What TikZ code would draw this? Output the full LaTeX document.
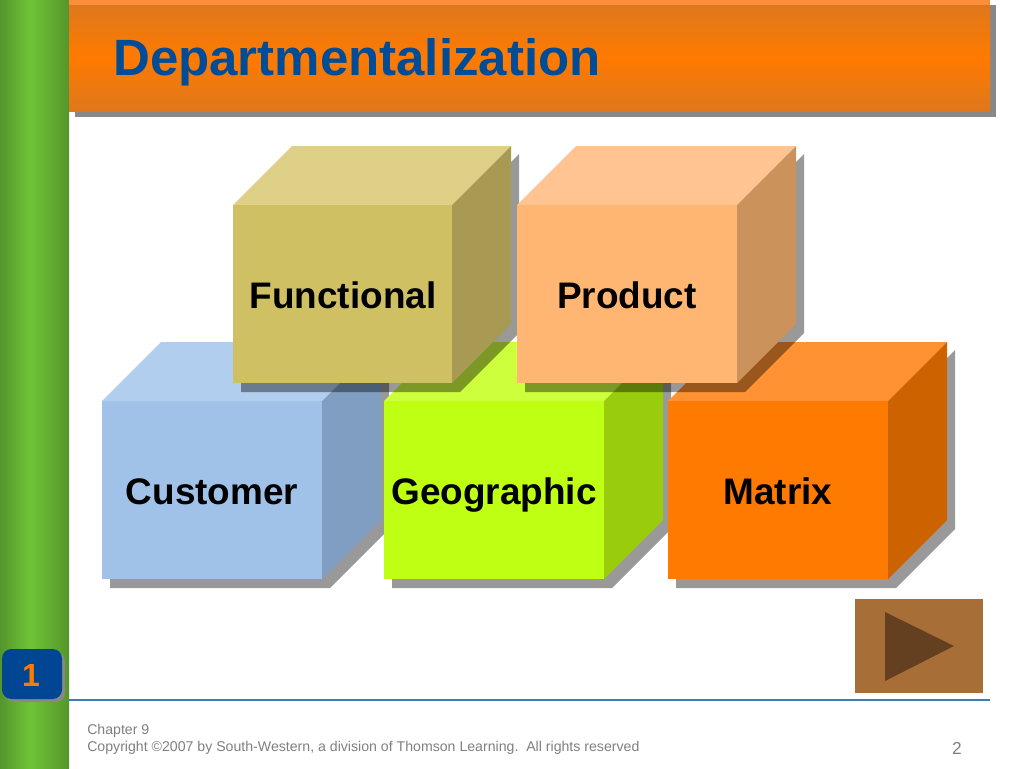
\documentclass[tikz,border=0pt]{standalone}
\usepackage{fontspec}
\setmainfont{Liberation Sans}
\definecolor{barDark}{RGB}{84,150,44}
\definecolor{barLight}{RGB}{112,196,54}
\definecolor{bandEdge}{RGB}{222,120,28}
\definecolor{bandMid}{RGB}{255,122,0}
\definecolor{bandTop}{RGB}{250,142,58}
\definecolor{shadowGray}{RGB}{136,136,136}
\definecolor{titleBlue}{RGB}{0,76,150}
\definecolor{badgeBlue}{RGB}{0,70,146}
\definecolor{ruleBlue}{RGB}{60,125,180}
\definecolor{footGray}{RGB}{128,128,128}
\definecolor{btnBrown}{RGB}{168,110,56}
\definecolor{btnDark}{RGB}{100,64,32}
\definecolor{numOrange}{RGB}{255,122,0}
\definecolor{cuF}{RGB}{160,194,232}\definecolor{cuT}{RGB}{178,206,238}\definecolor{cuS}{RGB}{128,158,194}
\definecolor{geF}{RGB}{190,255,20}\definecolor{geT}{RGB}{205,255,60}\definecolor{geS}{RGB}{152,204,12}
\definecolor{maF}{RGB}{255,122,0}\definecolor{maT}{RGB}{255,146,50}\definecolor{maS}{RGB}{204,98,0}
\definecolor{fuF}{RGB}{208,192,100}\definecolor{fuT}{RGB}{222,208,134}\definecolor{fuS}{RGB}{168,154,82}
\definecolor{prF}{RGB}{255,182,115}\definecolor{prT}{RGB}{255,196,145}\definecolor{prS}{RGB}{204,146,92}
\tikzset{
  x=0.75pt,y=-0.75pt,
  cubelabel/.style={font=\bfseries\fontsize{27.7}{30}\selectfont,text=black,inner sep=0pt,anchor=base},
  foot/.style={font=\fontsize{10.6}{12}\selectfont,text=footGray,inner sep=0pt,anchor=base west},
}
% #1 x, #2 y, #3 width, #4 prefix of the three face colours
\newcommand{\cubeshape}[4]{%
  \fill[black,opacity=0.4] (#1+8,#2+9) -- (#1+#3+8,#2+9) -- (#1+#3+67,#2-51) -- (#1+#3+67,#2+128) -- (#1+#3+8,#2+187) -- (#1+8,#2+187) -- cycle;
  \fill[#4T] (#1,#2) -- (#1+59,#2-59) -- (#1+#3+59,#2-59) -- (#1+#3,#2) -- cycle;
  \fill[#4S] (#1+#3,#2) -- (#1+#3+59,#2-59) -- (#1+#3+59,#2+119) -- (#1+#3,#2+178) -- cycle;
  \fill[#4F] (#1,#2) rectangle (#1+#3,#2+178);
}
\begin{document}
\begin{tikzpicture}
\useasboundingbox (0,0) rectangle (1024,768);
\fill[white] (0,0) rectangle (1024,768);
% left bar
\fill[left color=barDark,right color=barLight] (0,0) rectangle (30,768);
\fill[left color=barLight,right color=barDark] (30,0) rectangle (69,768);
% title band
\fill[shadowGray] (75,5) rectangle (996,117);
\fill[bandTop] (69,0) rectangle (990,5);
\fill[top color=bandEdge,bottom color=bandMid] (69,5) rectangle (990,57);
\fill[top color=bandMid,bottom color=bandEdge] (69,57) rectangle (990,111);
\node[font=\bfseries\fontsize{38.25}{42}\selectfont,text=titleBlue,inner sep=0pt,anchor=base west] (title) at (113,75) {Departmentalization};
% cubes
\cubeshape{102}{401}{220}{cu}
\cubeshape{384}{401}{220}{ge}
\cubeshape{668}{401}{220}{ma}
\cubeshape{233}{205}{219}{fu}
\cubeshape{517}{205}{220}{pr}
\node[cubelabel] (functional) at (343,308) {Functional};
\node[cubelabel] (product) at (627,308) {Product};
\node[cubelabel] (customer) at (212,504) {Customer};
\node[cubelabel] (geographic) at (494,504) {Geographic};
\node[cubelabel] (matrix) at (778,504) {Matrix};
% button
\fill[btnBrown] (855,599) rectangle (983,693);
\fill[btnDark] (885,612) -- (954,646) -- (885,681) -- cycle;
% badge
\fill[shadowGray,rounded corners=7pt] (5,652) rectangle (65,702);
\fill[badgeBlue,rounded corners=7pt] (2,649) rectangle (62,699);
\node[font=\bfseries\fontsize{24}{28}\selectfont,text=numOrange,inner sep=0pt,anchor=base] (num) at (31,686) {1};
% rule and footer
\coordinate (ruleL) at (69,700);
\coordinate (ruleR) at (990,700);
\draw[ruleBlue,line width=1pt] (ruleL) -- (ruleR);
\node[foot] (chapter) at (87,734) {Chapter 9};
\node[foot] (copy) at (87,751) {Copyright ©2007 by South-Western, a division of Thomson Learning.\ \ All rights reserved};
\node[font=\fontsize{13}{15}\selectfont,text=footGray,inner sep=0pt,anchor=base] (page) at (957,754) {2};
\end{tikzpicture}
\end{document}
